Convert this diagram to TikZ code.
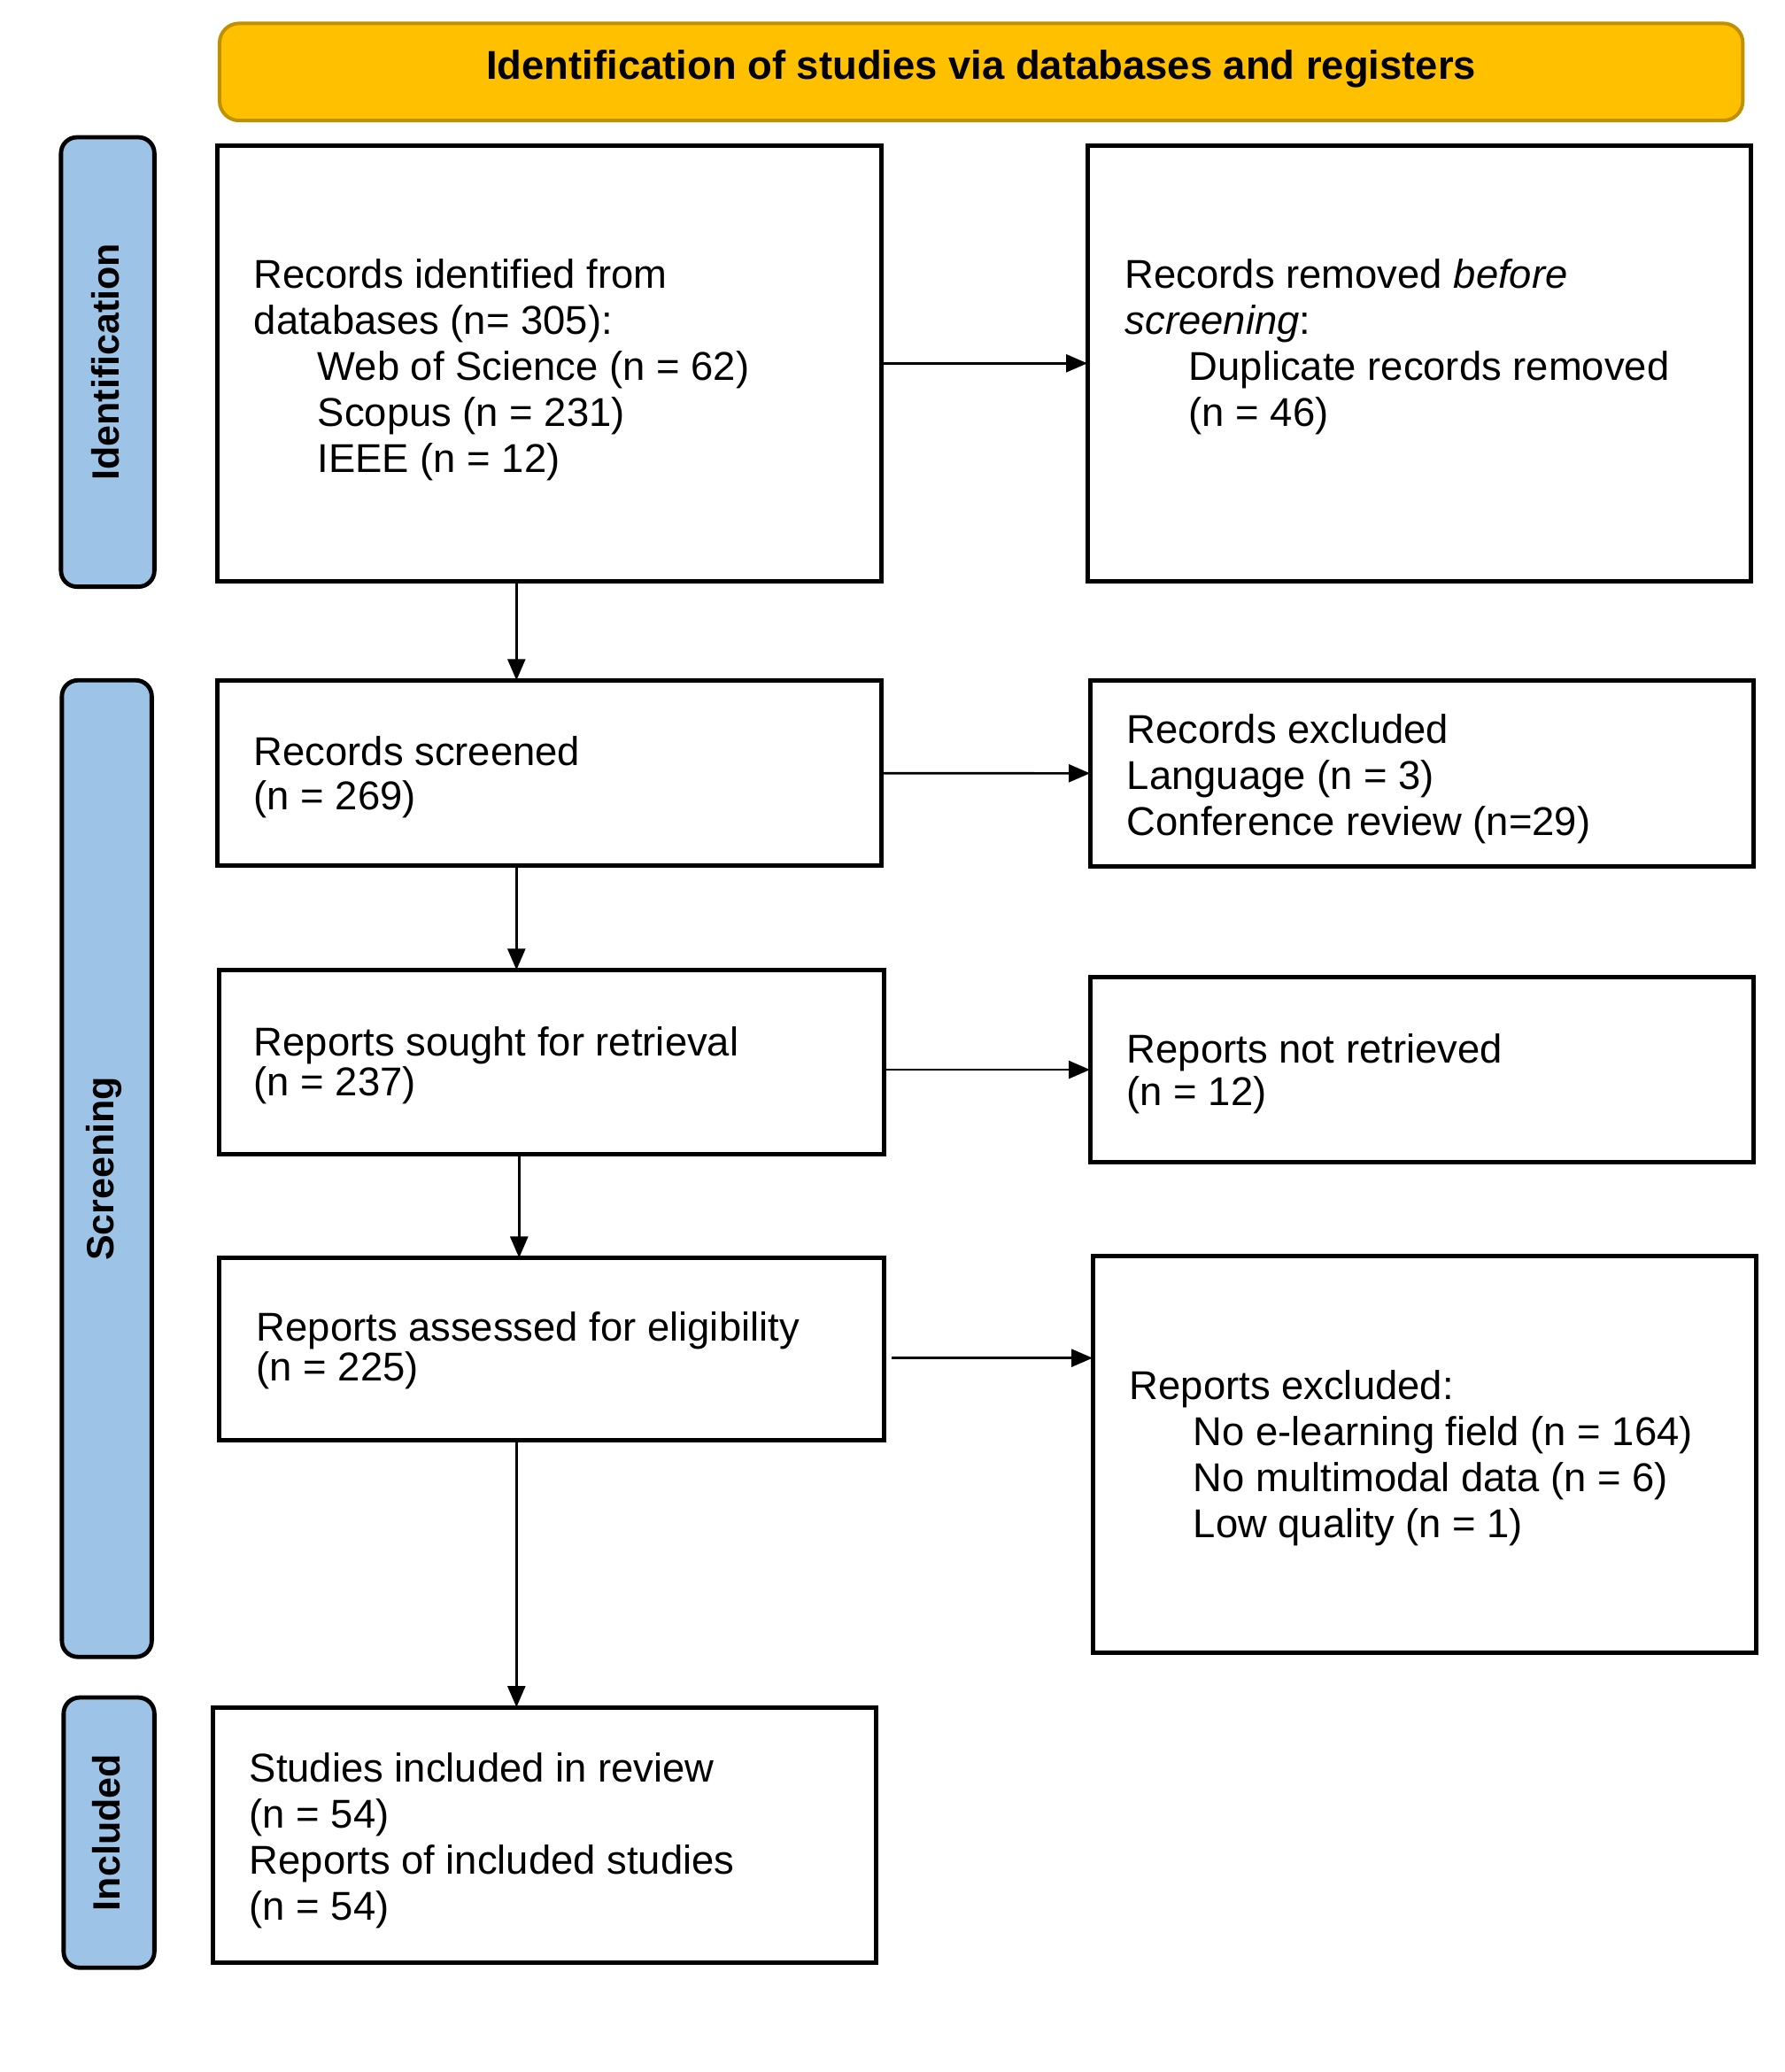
\documentclass[tikz,border=0pt]{standalone}
\usepackage{fontspec}
\setmainfont{Liberation Sans}
\usetikzlibrary{arrows.meta,calc,fit}
\definecolor{gold}{HTML}{FFC000}
\definecolor{golddark}{HTML}{BF9000}
\definecolor{sideblue}{HTML}{9DC3E6}
\begin{document}
\begin{tikzpicture}[
  box/.style={draw=black, line width=2.5pt, fill=white, inner sep=0pt, outer sep=0pt},
  side/.style={draw=black, line width=2.4pt, fill=sideblue, rounded corners=9pt, inner sep=0pt, outer sep=0pt},
  sidetxt/.style={rotate=90, inner sep=0pt, font=\fontsize{21.5pt}{24pt}\selectfont\bfseries},
  banner/.style={draw=golddark, line width=2pt, fill=gold, rounded corners=11pt, inner sep=0pt, outer sep=0pt},
  bantxt/.style={inner sep=0pt, font=\fontsize{22.7pt}{26pt}\selectfont\bfseries},
  txt/.style={anchor=north west, inner sep=0pt, outer sep=0pt, align=left, font=\fontsize{22.7pt}{26pt}\selectfont},
  tight/.style={font=\fontsize{22.7pt}{22.5pt}\selectfont},
  arr/.style={line width=1.3pt, -{Triangle[length=12pt,width=10pt]}}
]
\useasboundingbox (0pt,0pt) rectangle (1008pt,-1170pt);
\begin{scope}[shift={(0.615pt,-0.231pt)}, x=0.4975pt, y=-0.4986pt]

% banner and side bars
\node[banner, fit={(248,26)(1977,136)}] (ban) {};
\node[bantxt] (bant) at ($(ban.center)+(0,-3)$) {Identification of studies via databases and registers};
\node[side, fit={(68,155)(174,664)}] (sid) {};
\node[sidetxt] (sidt) at ($(sid.center)+(-3,0)$) {Identification};
\node[side, fit={(69,770)(171,1876)}] (ssc) {};
\node[sidetxt] (ssct) at ($(ssc.center)+(-3,0)$) {Screening};
\node[side, fit={(71,1922)(174,2228)}] (sin) {};
\node[sidetxt] (sint) at ($(sin.center)+(-3,0)$) {Included};

% boxes
\node[box, fit={(245,164)(999,658)}] (id1) {};
\node[box, fit={(1233,164)(1986,658)}] (rem) {};
\node[box, fit={(245,770)(999,980)}] (scr) {};
\node[box, fit={(1236,770)(1989,981)}] (exc) {};
\node[box, fit={(248,1098)(1002,1307)}] (sou) {};
\node[box, fit={(1236,1106)(1989,1316)}] (nr) {};
\node[box, fit={(248,1424)(1002,1631)}] (ass) {};
\node[box, fit={(1239,1422)(1992,1871)}] (rex) {};
\node[box, fit={(240,1933)(993,2222)}] (inc) {};

% texts
\node[txt] (t1) at (287,293) {Records identified from\\
databases (n= 305):\\
\hspace*{36pt}Web of Science (n = 62)\\
\hspace*{36pt}Scopus (n = 231)\\
\hspace*{36pt}IEEE (n = 12)};
\node[txt] (t2) at (1276,293) {Records removed \textit{before}\\
\textit{screening}:\\
\hspace*{36pt}Duplicate records removed\\
\hspace*{36pt}(n = 46)};
\node[txt, font=\fontsize{22.7pt}{25pt}\selectfont] (t3) at (287,833) {Records screened\\(n = 269)};
\node[txt] (t4) at (1278,808) {Records excluded\\Language (n = 3)\\Conference review (n=29)};
\node[txt, tight] (t5) at (287,1162) {Reports sought for retrieval\\(n = 237)};
\node[txt, font=\fontsize{22.7pt}{24pt}\selectfont] (t6) at (1278,1170) {Reports not retrieved\\(n = 12)};
\node[txt, tight] (t7) at (290,1485) {Reports assessed for eligibility\\(n = 225)};
\node[txt] (t8) at (1281,1551) {Reports excluded:\\
\hspace*{36pt}No e-learning field (n = 164)\\
\hspace*{36pt}No multimodal data (n = 6)\\
\hspace*{36pt}Low quality (n = 1)};
\node[txt] (t9) at (282,1985) {Studies included in review\\(n = 54)\\Reports of included studies\\(n = 54)};

% connectors
\coordinate (colA) at (585,0);
\coordinate (colB) at (588,0);
\draw[arr] (id1) -- (rem);
\draw[arr] (scr) -- (exc);
\draw[arr] (sou.east |- nr.west) -- (nr.west);
\draw[arr] ($(ass.east)+(9,10)$) -- ($(ass.east -| rex.west)+(0,10)$);
\draw[arr] (id1.south -| colA) -- (scr.north -| colA);
\draw[arr] (scr.south -| colA) -- (sou.north -| colA);
\draw[arr] (sou.south -| colB) -- (ass.north -| colB);
\draw[arr] (ass.south -| colA) -- (inc.north -| colA);
\end{scope}
\end{tikzpicture}
\end{document}
